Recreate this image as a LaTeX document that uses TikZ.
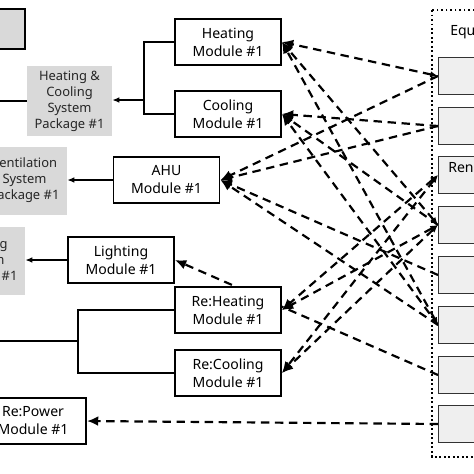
\documentclass[tikz,border=0pt]{standalone}
\usepackage{fontspec}
\setmainfont{Noto Sans}
\usepackage{xcolor}
\usetikzlibrary{arrows.meta, positioning, backgrounds}
\definecolor{pkggray}{HTML}{D9D9D9}
\definecolor{equipgray}{HTML}{EFEFEF}
\newcommand{\modfont}{\fontsize{10}{12.8}\selectfont}
\newcommand{\pkgfont}{\fontsize{9.2}{11.4}\selectfont}
\tikzset{
  module/.style  = {rectangle, draw, line width=1.4pt, fill=white, minimum width=2.65cm,
                    minimum height=1.15cm, align=center, font=\modfont},
  package/.style = {rectangle, fill=pkggray, minimum width=2.125cm, minimum height=1.7cm,
                    align=center, font=\pkgfont, text=black!85},
  equip/.style   = {rectangle, draw=black!80, line width=1pt, fill=equipgray,
                    minimum width=2.5cm, minimum height=0.925cm, anchor=west},
  link/.style    = {line width=0.9pt},
  arrow/.style   = {line width=0.9pt, -{Latex[length=5pt,width=4pt]}},
  dline/.style   = {line width=1.55pt, dash pattern=on 6pt off 4pt, -{Latex[length=8pt,width=7pt]}},
  dboth/.style   = {dline, {Latex[length=5.5pt,width=4.5pt]}-{Latex[length=8pt,width=7pt]}},
}

\begin{document}
\begin{tikzpicture}
    \useasboundingbox (0,0) rectangle (11.85,-11.85);
    \clip (0,0) rectangle (11.85,-11.85);

    %% packages (left)
    \node[package, draw=black, line width=2pt, minimum width=1.625cm, minimum height=1cm] (topbox) at (-0.1875,-0.725) {};
    \node[package] (hcpkg)   at (1.7375,-2.525) {Heating \&\\Cooling\\System\\Package \#1};
    \node[package] (ventpkg) at (0.6125,-4.5125) {Ventilation\\System\\Package \#1};
    \node[package] (litpkg)  at (-0.4375,-6.525) {Lighting\\System\\Package \#1};

    %% modules
    \node[module] (heat)    at (5.7,-1.05)    {Heating\\Module \#1};
    \node[module] (cool)    at (5.7,-2.85)    {Cooling\\Module \#1};
    \node[module] (ahu)     at (4.1625,-4.5)  {AHU\\Module \#1};
    \node[module] (lit)     at (3.025,-6.5)   {Lighting\\Module \#1};
    \node[module] (reheat)  at (5.7,-7.75)    {Re:Heating\\Module \#1};
    \node[module] (recool)  at (5.7,-9.325)   {Re:Cooling\\Module \#1};
    \node[module] (repower) at (0.825,-10.525) {Re:Power\\Module \#1};

    %% equipment group
    \draw[dotted, line width=1.2pt] (10.8,-0.25) rectangle (13.2,-11.425);
    \node[anchor=west, font=\modfont, inner sep=0pt] (eqtitle) at (11.25,-0.8) {Equ};
    \foreach \i/\y in {1/-1.9, 2/-3.15, 3/-4.375, 4/-5.625, 5/-6.875, 6/-8.125, 7/-9.375, 8/-10.6}
      \node[equip] (e\i) at (10.95,\y) {};
    \node[anchor=west, font=\modfont, inner sep=0pt] (rentext) at (11.2,-4.19) {Ren};

    %% solid connections
    \draw[link] (heat.west) -- ++(-0.75,0) |- (cool.west);
    \coordinate (hcj) at (3.625,-2.5);
    \draw[arrow] (hcj) -- (hcj -| hcpkg.east);
    \draw[link]  (hcpkg.west) -- ++(-1.5,0);
    \draw[arrow] (ahu.west) -- (ahu.west -| ventpkg.east);
    \draw[arrow] (lit.west) -- (lit.west -| litpkg.east);
    \coordinate (rej) at (1.95,-8.525);
    \draw[link] (reheat.west) -| (rej) |- (recool.west);
    \draw[link] (rej) -- ++(-2.5,0);

    %% dashed links to equipment
    \begin{scope}[on background layer]
      \draw[dboth] (e1.west) -- (heat.east);
      \draw[dline] (e1.west) -- (ahu.east);
      \draw[dline] (e2.west) -- (cool.east);
      \draw[dline] (e2.west) -- (ahu.east);
      \draw[dboth] (e3.west) -- (reheat.east);
      \draw[dboth] (e3.west) -- (recool.east);
      \draw[dboth] (e4.west) -- (heat.east);
      \draw[dline] (e4.west) -- (cool.east);
      \draw[dboth] (e4.west) -- (reheat.east);
      \draw[dboth] (e4.west) -- (recool.east);
      \draw[dline] (e5.west) -- (ahu.east);
      \draw[dboth] (e6.west) -- (heat.east);
      \draw[dline] (e6.west) -- (cool.east);
      \draw[dline] (e6.west) -- (ahu.east);
      \draw[dline] (e7.west) -- (lit.east);
      \draw[dline] (e8.west) -- (repower.east);
    \end{scope}

\end{tikzpicture}
\end{document}
